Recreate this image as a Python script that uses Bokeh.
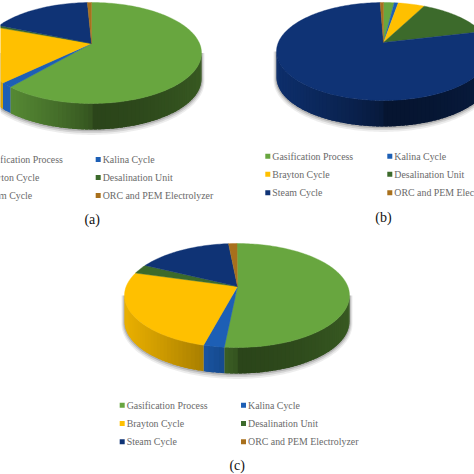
import math
from bokeh.plotting import figure
from bokeh.models import Range1d
from bokeh.core.properties import value
from bokeh.embed import file_html
from bokeh.resources import INLINE

categories = ["Gasification Process", "Kalina Cycle", "Brayton Cycle",
              "Desalination Unit", "Steam Cycle", "ORC and PEM Electrolyzer"]
values_a = [63.2, 1.7, 18.6, 0.6, 15.3, 0.6]
values_b = [1.6, 0.6, 4.0, 12.2, 81.1, 0.5]
values_c = [51.8, 3.0, 27.3, 2.7, 14.0, 1.2]
panel_labels = ["(a)", "(b)", "(c)"]

colors = ["#68a63f", "#1d5fb5", "#ffc000", "#3c6a2b", "#0f3375", "#a8701c"]
side_boost = [1.0, 1.35, 1.0, 1.0, 1.0, 1.0]
TEXT_GRAY = "#6a6a6a"

p = figure(width=474, height=474, output_backend="svg", toolbar_location=None,
           x_range=Range1d(0, 474), y_range=Range1d(474, 0), min_border=0)
p.xaxis.visible = False
p.yaxis.visible = False
p.grid.visible = False
p.outline_line_color = None
p.background_fill_color = "white"
p.border_fill_color = "white"


def rgb(hexc):
    return tuple(int(hexc[i:i + 2], 16) for i in (1, 3, 5))


def shade(hexc, f):
    r, g, b = rgb(hexc)
    return "#%02x%02x%02x" % tuple(min(255, int(c * f)) for c in (r, g, b))


def side_factor(t):
    s = math.sin(t)
    if s < 0:  # left, brighter toward the edge
        return 0.50 + 0.42 * (-s) ** 0.8
    return 0.42 + 0.12 * s ** 2


def draw_pie(vals, cx, cy, rx, ry, ax, ay, depth):
    # soft shadow below the rim
    for grow, alpha in ((3.0, 0.07), (2.0, 0.10), (1.0, 0.16)):
        n = 120
        ts = [math.pi / 2 + math.pi * i / n for i in range(n + 1)]
        xs = [cx + (rx + grow) * math.sin(t) for t in ts]
        ys = [cy + depth + grow * 0.8 - (ry + grow) * math.cos(t) for t in ts]
        p.patch(xs + [cx - rx - grow, cx + rx + grow],
                ys + [cy, cy], fill_color="#000000", fill_alpha=alpha, line_color=None)
    total = sum(vals)
    acc = 0.0
    sx, sy, sc = [], [], []
    for v, col, boost in zip(vals, colors, side_boost):
        a0 = acc / total * 2 * math.pi
        acc += v
        a1 = acc / total * 2 * math.pi
        lo, hi = max(a0, math.pi / 2), min(a1, 3 * math.pi / 2)
        if hi > lo:
            n = max(1, int((hi - lo) / 0.04))
            for i in range(n):
                t0 = lo + (hi - lo) * i / n
                # each strip reaches past its neighbour's edge, so no seams show
                t1 = min(hi, lo + (hi - lo) * (i + 1) / n)
                t2 = min(hi, t1 + 0.03)
                xa, xb = cx + rx * math.sin(t0), cx + rx * math.sin(t2)
                ya, yb = cy - ry * math.cos(t0), cy - ry * math.cos(t2)
                sx.append([xa, xb, xb, xa])
                sy.append([ya, yb, yb + depth, ya + depth])
                sc.append(shade(col, min(1.0, boost * side_factor((t0 + t1) / 2))))
    p.patches(sx, sy, fill_color=sc, line_color=None)
    acc = 0.0
    for v, col in zip(vals, colors):
        a0 = acc / total * 2 * math.pi
        acc += v
        a1 = acc / total * 2 * math.pi
        n = max(2, int((a1 - a0) / 0.02))
        ts = [a0 + (a1 - a0) * i / n for i in range(n + 1)]
        xs = [ax] + [cx + rx * math.sin(t) for t in ts]
        ys = [ay] + [cy - ry * math.cos(t) for t in ts]
        p.patch(xs, ys, fill_color=col, line_color=col, line_width=0.4)


def draw_legend(x1, x2, rows):
    k = 0
    for y in rows:
        for x in (x1, x2):
            p.rect([x], [y], width=5, height=5, fill_color=colors[k], line_color=None)
            p.text([x + 4.5], [y], text=[categories[k]], text_font=value("Liberation Serif"),
                   text_font_size="9.9px", text_color=TEXT_GRAY,
                   text_baseline="middle", text_align="left")
            k += 1


def draw_label(x, y, s):
    p.text([x], [y], text=[s], text_font=value("Liberation Serif"), text_font_size="14px",
           text_color="#111111", text_baseline="middle", text_align="center")


draw_pie(values_a, 91, 52.5, 110, 50.5, 91, 43, 26)
draw_pie(values_b, 383, 51, 107, 49, 383, 42, 26)
draw_pie(values_c, 236.5, 295, 112.5, 52, 237, 286, 26)

draw_legend(-23, 97.7, [159, 177, 195])
draw_legend(267.3, 389.3, [155.7, 173.7, 192.3])
draw_legend(121.7, 243, [404.7, 423, 441.3])

draw_label(91.7, 219, panel_labels[0])
draw_label(383, 216.7, panel_labels[1])
draw_label(236.7, 465, panel_labels[2])

open("out.html", "w").write(file_html(p, INLINE))
